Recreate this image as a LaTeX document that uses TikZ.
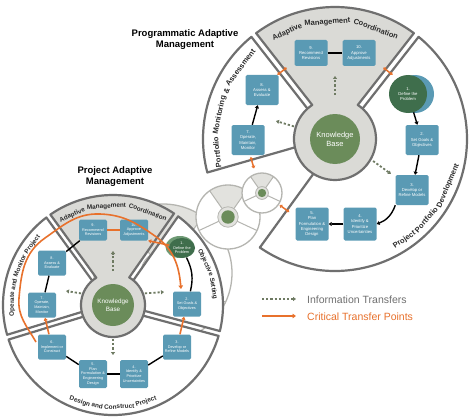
\documentclass[tikz,border=0pt]{standalone}
\usepackage{fontspec}
\setmainfont{Liberation Sans}
\usetikzlibrary{calc,arrows.meta,shapes.geometric}
\definecolor{boxblue}{HTML}{5A9AB4}
\definecolor{dgreen}{HTML}{3F6E4C}
\definecolor{lgreen}{HTML}{6E9A74}
\definecolor{kbgreen}{HTML}{6B8C5A}
\definecolor{wedgegray}{HTML}{DADAD6}
\definecolor{linegray}{HTML}{6F6F6F}
\definecolor{orng}{HTML}{E8712C}
\definecolor{infogreen}{HTML}{6E7A62}
\definecolor{geargray}{HTML}{B5B5B0}
\definecolor{gearfill}{HTML}{E2E2DE}
\definecolor{legtext}{HTML}{707070}
\definecolor{labtext}{HTML}{2A2A2A}
\newcommand\mysect[7]{%
 \pgfmathsetmacro\sdA{asin(#6/#5)}%
 \pgfmathsetmacro\sdB{asin(#6/#4)}%
 \path[#7] ([shift={(#1)}]{#2+\sdA}:#5) arc[start angle={#2+\sdA}, end angle={#3-\sdA}, radius=#5] -- ([shift={(#1)}]{#3-\sdB}:#4) arc[start angle={#3-\sdB}, end angle={#2+\sdB}, radius=#4] -- cycle;}
\newcommand\myfunnel[7]{%
 \pgfmathsetmacro\fdA{asin(#6/#5)}%
 \pgfmathsetmacro\fdB{asin(#6/#4)}%
 \path[#7] ([shift={(#1)}]{#3-\fdA}:#5) arc[start angle={#3-\fdA}, end angle={#2+\fdA}, radius=#5] -- ([shift={(#1)}]{#2+\fdB}:#4) arc[start angle={#2+\fdB}, end angle={#3-\fdB-360}, radius=#4] -- cycle;}
\newcommand\mygear[2]{%
 \begin{scope}[shift={#1}]
 \fill[white] (0,0) circle (#2);
 \fill[gearfill] (0,0) -- (55:#2) arc[start angle=55,end angle=125,radius=#2] -- cycle;
 \draw[geargray,line width=1pt] (0,0) -- (55:#2) (0,0) -- (125:#2) (0,0) -- (205:#2) (0,0) -- (-25:#2);
 \draw[geargray,line width=1.3pt] (0,0) circle (#2);
 \filldraw[fill=gearfill,draw=geargray,line width=0.8pt] (0,0) circle ({0.32*#2});
 \fill[kbgreen] (0,0) circle ({0.21*#2});
 \end{scope}}
\newcommand\omark[3]{\draw[orng,line width=1.5pt,{Triangle[length=2.5pt,width=4pt]}-{Triangle[length=2.5pt,width=4pt]}] ([shift={(#1)}]#2:#3) ++({#2+90}:6) -- ++({#2-90}:12);}
\begin{document}
\begin{tikzpicture}[x=1pt,y=1pt,
 sectw/.style={fill=white,draw=linegray,line width=2.2pt,line join=round},
 sectg/.style={fill=wedgegray,draw=linegray,line width=2.2pt,line join=round},
 rbox/.style={rectangle,rounded corners=1.5pt,fill=boxblue,text=white,align=center,minimum width=33pt,minimum height=30pt,inner sep=0.5pt,font=\fontsize{4.2}{5.2}\selectfont},
 lbox/.style={rbox,minimum width=28pt,minimum height=25pt,font=\fontsize{3.8}{4.6}\selectfont},
 blk/.style={black,line width=1.4pt},
 blkarr/.style={blk,-{Triangle[length=3pt,width=4pt]}},
 info/.style={infogreen,line width=1.8pt,dash pattern=on 2.2pt off 2pt,-{Triangle[length=3pt,width=4pt]}},
 crit/.style={orng,line width=1.6pt},
 arcw/.style={anchor=base,inner sep=0pt,text=labtext,font=\bfseries\fontsize{7.5}{7.5}\selectfont},
 arcwl/.style={arcw,font=\bfseries\fontsize{6.4}{6.4}\selectfont},
 title/.style={font=\bfseries\fontsize{9.5}{11}\selectfont,align=center}]
\useasboundingbox (0,0) rectangle (474,-420);
\fill[white] (0,0) rectangle (474,-420);
% ---------- right diagram ----------
\coordinate (C1) at (335,-139);
\mysect{C1}{128}{196}{40}{132}{3}{sectw}
\mysect{C1}{-126}{52}{40}{132}{3}{sectw}
\myfunnel{C1}{52}{128}{41}{132}{3}{sectg}
\fill[kbgreen] (C1) circle (25);
\node[font=\fontsize{7.5}{9}\selectfont,text=white,align=center] (kb1) at (C1) {Knowledge\\Base};
% curved labels, word by word
\node[arcw,rotate=24.06] (ra1) at ($(C1)+(114.06:115)$) {Adaptive};
\node[arcw,rotate=3.71] (ra2) at ($(C1)+(93.71:115)$) {Management};
\node[arcw,rotate=-20.37] (ra3) at ($(C1)+(69.63:115)$) {Coordination};
\node[arcw,rotate=96.35] (rb1) at ($(C1)+(186.35:116)$) {Portfolio};
\node[arcw,rotate=78.14] (rb2) at ($(C1)+(168.14:116)$) {Monitoring};
\node[arcw,rotate=66.2] (rb3) at ($(C1)+(156.2:116)$) {\&};
\node[arcw,rotate=52.92] (rb4) at ($(C1)+(142.92:116)$) {Assessment};
\node[arcw,rotate=34.53] (rc1) at ($(C1)+(-55.47:124.5)$) {Project};
\node[arcw,rotate=48.5] (rc2) at ($(C1)+(-41.5:124.5)$) {Portfolio};
\node[arcw,rotate=67.46] (rc3) at ($(C1)+(-22.54:124.5)$) {Development};
\node[rbox,minimum height=26pt] (r9) at (311,-53) {9.\\Recommend\\Revisions};
\node[rbox,minimum height=26pt] (r10) at (359,-53) {10.\\Approve\\Adjustments};
\node[rbox] (r8) at (262,-90) {8.\\Assess \&\\Evaluate};
\node[rbox] (r7) at (248,-140) {7.\\Operate,\\Maintain,\\Monitor};
\node[circle,fill=boxblue,minimum size=38pt] (r1b) at (415,-94) {};
\node[circle,fill=dgreen,minimum size=38pt,text=white,align=center,inner sep=0pt,font=\fontsize{4.2}{5.2}\selectfont] (r1) at (408,-94) {1.\\Define the\\Problem};
\node[rbox] (r2) at (422,-140) {2.\\Set Goals \&\\Objectives};
\node[rbox] (r3) at (412,-190) {3.\\Develop or\\Refine Models};
\node[rbox,minimum height=33pt] (r4) at (360,-224) {4.\\Identify \&\\Prioritize\\Uncertainties};
\node[rbox,minimum height=33pt] (r5) at (312,-224) {5.\\Plan\\Formulation \&\\Engineering\\Design};
\draw[blk] (r9) -- (r10);
\draw[blkarr] (r7) -- (r8);
\draw[blkarr] (r1) -- (r2);
\draw[blkarr] (r2) -- (r3);
\draw[blkarr] (r3.south west) to[bend left=25] (r4.east);
\draw[blkarr] (r4) -- (r5);
\coordinate (ri1s) at ($(C1)+(90:44)$); \coordinate (ri1e) at (335,-76);
\coordinate (ri2s) at ($(C1)+(163:43)$); \coordinate (ri2e) at (276,-121);
\coordinate (ri3s) at ($(C1)+(-30:44)$); \coordinate (ri3e) at (391,-174);
\draw[info] (ri1s) -- (ri1e);
\draw[info] (ri2s) -- (ri2e);
\draw[info] (ri3s) -- (ri3e);
\omark{C1}{128}{86}
\omark{C1}{52}{86}
\omark{C1}{196}{86}
\omark{C1}{234}{86}
% ---------- gears ----------
\mygear{(163,-273)}{69}
\mygear{(228,-217)}{32}
\mygear{(262,-193)}{20}
% ---------- left diagram ----------
\coordinate (C2) at (113,-305);
\mysect{C2}{126}{197}{31}{110}{2.5}{sectw}
\mysect{C2}{197}{345}{31}{110}{2.5}{sectw}
\mysect{C2}{-15}{55}{31}{110}{2.5}{sectw}
\myfunnel{C2}{55}{126}{32}{110}{2.5}{sectg}
\fill[kbgreen] (C2) circle (21);
\node[font=\fontsize{6.3}{7.5}\selectfont,text=white,align=center] (kb2) at (C2) {Knowledge\\Base};
\node[arcwl,rotate=24.37] (la1) at ($(C2)+(114.37:97)$) {Adaptive};
\node[arcwl,rotate=3.78] (la2) at ($(C2)+(93.78:97)$) {Management};
\node[arcwl,rotate=-20.58] (la3) at ($(C2)+(69.42:97)$) {Coordination};
\node[arcwl,rotate=89.6] (lb1) at ($(C2)+(179.6:99)$) {Operate};
\node[arcwl,rotate=78.28] (lb2) at ($(C2)+(168.28:99)$) {and};
\node[arcwl,rotate=67.17] (lb3) at ($(C2)+(157.17:99)$) {Monitor};
\node[arcwl,rotate=53.07] (lb4) at ($(C2)+(143.07:99)$) {Project};
\node[arcwl,rotate=-65.27] (lc1) at ($(C2)+(24.73:100)$) {Objective};
\node[arcwl,rotate=-80.76] (lc2) at ($(C2)+(9.24:100)$) {Setting};
\node[arcwl,rotate=-18.9] (ld1) at ($(C2)+(251.1:104)$) {Design};
\node[arcwl,rotate=-8.91] (ld2) at ($(C2)+(261.09:104)$) {and};
\node[arcwl,rotate=3.53] (ld3) at ($(C2)+(273.53:104)$) {Construct};
\node[arcwl,rotate=18.81] (ld4) at ($(C2)+(288.81:104)$) {Project};
\node[lbox,minimum height=21pt] (l9) at (93,-230) {9.\\Recommend\\Revisions};
\node[lbox,minimum height=21pt] (l10) at (134,-230) {10.\\Approve\\Adjustments};
\node[lbox] (l8) at (52,-263) {8.\\Assess \&\\Evaluate};
\node[lbox] (l7) at (42,-305) {7.\\Operate,\\Maintain,\\Monitor};
\node[lbox] (l6) at (52,-347) {6.\\Implement or\\Construct};
\node[lbox,minimum height=28pt] (l5) at (93,-374) {5.\\Plan\\Formulation \&\\Engineering\\Design};
\node[lbox,minimum height=28pt] (l4) at (134,-374) {4.\\Identify \&\\Prioritize\\Uncertainties};
\node[lbox] (l3) at (177,-347) {3.\\Develop or\\Refine Models};
\node[lbox] (l2) at (187,-304) {2.\\Set Goals \&\\Objectives};
\node[ellipse,fill=lgreen,minimum width=29pt,minimum height=22pt] (l1b) at (180,-247) {};
\node[ellipse,fill=dgreen,minimum width=26pt,minimum height=20pt,inner sep=0pt,text=white,align=center,font=\fontsize{3.8}{4.6}\selectfont] (l1) at (182,-248) {1.\\Define the\\Problem};
\draw[blk] (l9) -- (l8);
\draw[blk] (l8) -- (l7);
\draw[blk] (l6) -- (l5);
\draw[blk] (l5) -- (l4);
\draw[blk] (l4) -- (l3);
\draw[blk] (l1) to[bend left=20] (l2);
\draw[crit] (l9) -- (l10);
\draw[crit,-{Triangle[length=3pt,width=4pt]}] (l6) -- (l7);
\draw[crit,-{Triangle[length=3pt,width=4pt]}] (l3) -- (l2);
\draw[crit,-{Triangle[length=3pt,width=4pt]}] (l1) -- (l10.south east);
\coordinate (oa1) at (36,-342); \coordinate (oa2) at (19,-298); \coordinate (oa3) at (45,-238);
\coordinate (oa4) at (100,-214); \coordinate (oa5) at (155,-236); \coordinate (oa6) at (181,-289);
\draw[crit,-{Triangle[length=3.5pt,width=4.5pt]}] (oa1) to[out=120,in=-95] (oa2) to[out=85,in=215] (oa3) to[out=35,in=178] (oa4) to[out=-2,in=145] (oa5) to[out=-35,in=95] (oa6);
\coordinate (li1s) at ($(C2)+(90:34)$); \coordinate (li1e) at (113,-251);
\coordinate (li2s) at ($(C2)+(160:34)$); \coordinate (li2e) at (66,-291);
\coordinate (li3s) at ($(C2)+(20:34)$); \coordinate (li3e) at (164,-292);
\coordinate (li4s) at ($(C2)+(-90:34)$); \coordinate (li4e) at (113,-355);
\draw[info] (li1s) -- (li1e);
\draw[info] (li2s) -- (li2e);
\draw[info] (li3s) -- (li3e);
\draw[info] (li4s) -- (li4e);
% ---------- titles ----------
\node[title] (t1) at (185,-39.5) {Programmatic Adaptive\\Management};
\node[title] (t2) at (115,-177) {Project Adaptive\\Management};
% ---------- legend ----------
\coordinate (lg1a) at (262,-299); \coordinate (lg1b) at (296,-299);
\coordinate (lg2a) at (262,-316); \coordinate (lg2b) at (296,-316);
\draw[info] (lg1a) -- (lg1b);
\draw[crit,-{Triangle[length=3.5pt,width=4.5pt]}] (lg2a) -- (lg2b);
\node[anchor=west,text=legtext,font=\fontsize{10.5}{12}\selectfont,inner sep=0pt] (lgt1) at (307,-299.5) {Information Transfers};
\node[anchor=west,text=orng,font=\fontsize{10.5}{12}\selectfont,inner sep=0pt] (lgt2) at (307,-316.5) {Critical Transfer Points};
\end{tikzpicture}
\end{document}
